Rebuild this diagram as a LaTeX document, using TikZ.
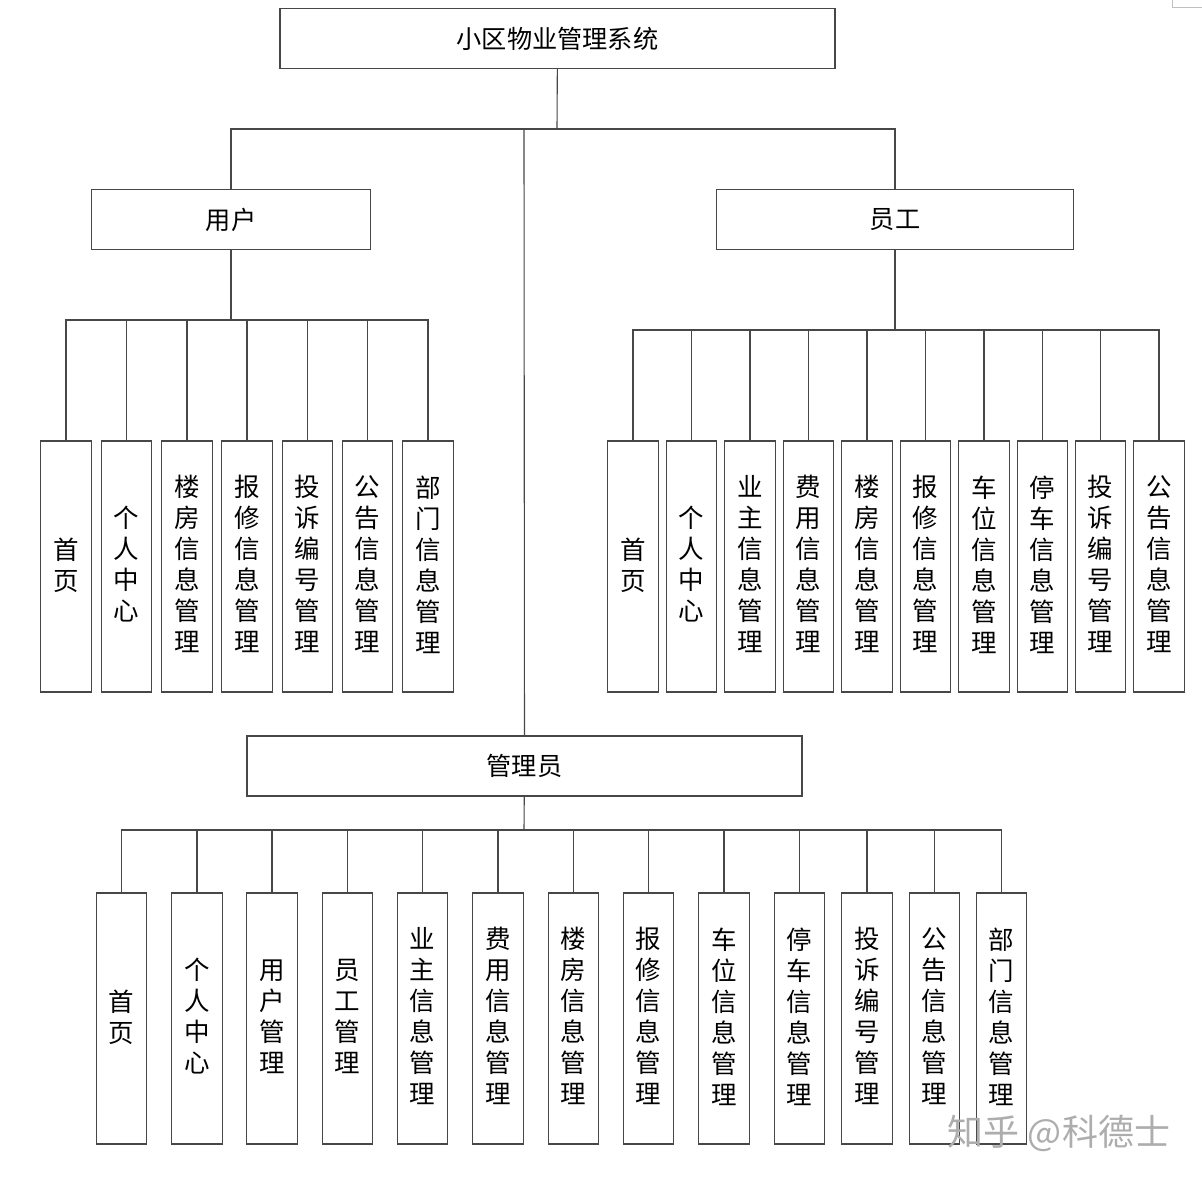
\documentclass[tikz,border=0pt]{standalone}
\usepackage{fontspec}
\setmainfont{Noto Sans CJK SC}
\tikzset{
  wide/.style={draw=black!72,line width=1.1pt,fill=white,inner sep=0pt,minimum height=60pt,font=\fontsize{25.2}{30}\selectfont},
  leaf/.style={draw=black!72,line width=1.1pt,fill=white,inner sep=0pt,text depth=5.5pt,minimum width=50.5pt,minimum height=251pt,align=center,font=\fontsize{25.5}{31}\selectfont},
  mark text/.style={text=black!32,inner sep=0pt,font=\fontsize{36}{36}\selectfont},
}
\begin{document}
\begin{tikzpicture}[x=1pt,y=-1pt]
  \useasboundingbox (0,0) rectangle (1202,1179);
  \coordinate (topbus) at (557,129);
  \coordinate (userbus) at (231,320);
  \coordinate (staffbus) at (895,330);
  \coordinate (adminbus) at (524,830);
  \coordinate (adminjoin) at (524,129);
  \coordinate (cornerA) at (1172,0);
  \coordinate (cornerB) at (1202,7);
  \draw
    (557.5,38.5) node[wide,minimum width=555pt] (root){小区物业管理系统}
    (231,219.5) node[wide,minimum width=279pt] (user){用户}
    (895,219.5) node[wide,minimum width=357pt] (staff){员工}
    (524.5,766) node[wide,minimum width=555pt] (admin){管理员};
  \draw
    (66,566.5) node[leaf] (u0){首\\页}
    (126.5,566.5) node[leaf] (u1){个\\人\\中\\心}
    (187,566.5) node[leaf] (u2){楼\\房\\信\\息\\管\\理}
    (247,566.5) node[leaf] (u3){报\\修\\信\\息\\管\\理}
    (307.5,566.5) node[leaf] (u4){投\\诉\\编\\号\\管\\理}
    (367.5,566.5) node[leaf] (u5){公\\告\\信\\息\\管\\理}
    (428,566.5) node[leaf] (u6){部\\门\\信\\息\\管\\理};
  \draw
    (633,566.5) node[leaf] (s0){首\\页}
    (691.5,566.5) node[leaf] (s1){个\\人\\中\\心}
    (750,566.5) node[leaf] (s2){业\\主\\信\\息\\管\\理}
    (808.5,566.5) node[leaf] (s3){费\\用\\信\\息\\管\\理}
    (867,566.5) node[leaf] (s4){楼\\房\\信\\息\\管\\理}
    (925.5,566.5) node[leaf] (s5){报\\修\\信\\息\\管\\理}
    (984,566.5) node[leaf] (s6){车\\位\\信\\息\\管\\理}
    (1042.5,566.5) node[leaf] (s7){停\\车\\信\\息\\管\\理}
    (1100.5,566.5) node[leaf] (s8){投\\诉\\编\\号\\管\\理}
    (1159,566.5) node[leaf] (s9){公\\告\\信\\息\\管\\理};
  \draw
    (121.5,1018.5) node[leaf] (a0){首\\页}
    (197,1018.5) node[leaf] (a1){个\\人\\中\\心}
    (272,1018.5) node[leaf] (a2){用\\户\\管\\理}
    (347.5,1018.5) node[leaf] (a3){员\\工\\管\\理}
    (422.5,1018.5) node[leaf] (a4){业\\主\\信\\息\\管\\理}
    (498,1018.5) node[leaf] (a5){费\\用\\信\\息\\管\\理}
    (573.5,1018.5) node[leaf] (a6){楼\\房\\信\\息\\管\\理}
    (648.5,1018.5) node[leaf] (a7){报\\修\\信\\息\\管\\理}
    (724,1018.5) node[leaf] (a8){车\\位\\信\\息\\管\\理}
    (799.5,1018.5) node[leaf] (a9){停\\车\\信\\息\\管\\理}
    (867,1018.5) node[leaf] (a10){投\\诉\\编\\号\\管\\理}
    (934.5,1018.5) node[leaf] (a11){公\\告\\信\\息\\管\\理}
    (1001.5,1018.5) node[leaf] (a12){部\\门\\信\\息\\管\\理};
  \begin{scope}[draw=black!72,line width=1.1pt]
    \draw (root) -- (topbus);
    \draw (user) |- (topbus);
    \draw (staff) |- (topbus);
    \draw (admin) -- (adminjoin);
    \draw (user) -- (userbus);
    \draw (u0) |- (userbus);
    \draw (u1) |- (userbus);
    \draw (u2) |- (userbus);
    \draw (u3) |- (userbus);
    \draw (u4) |- (userbus);
    \draw (u5) |- (userbus);
    \draw (u6) |- (userbus);
    \draw (staff) -- (staffbus);
    \draw (s0) |- (staffbus);
    \draw (s1) |- (staffbus);
    \draw (s2) |- (staffbus);
    \draw (s3) |- (staffbus);
    \draw (s4) |- (staffbus);
    \draw (s5) |- (staffbus);
    \draw (s6) |- (staffbus);
    \draw (s7) |- (staffbus);
    \draw (s8) |- (staffbus);
    \draw (s9) |- (staffbus);
    \draw (admin) -- (adminbus);
    \draw (a0) |- (adminbus);
    \draw (a1) |- (adminbus);
    \draw (a2) |- (adminbus);
    \draw (a3) |- (adminbus);
    \draw (a4) |- (adminbus);
    \draw (a5) |- (adminbus);
    \draw (a6) |- (adminbus);
    \draw (a7) |- (adminbus);
    \draw (a8) |- (adminbus);
    \draw (a9) |- (adminbus);
    \draw (a10) |- (adminbus);
    \draw (a11) |- (adminbus);
    \draw (a12) |- (adminbus);
  \end{scope}
  \draw[black!25,line width=0.8pt] (cornerA) |- (cornerB);
  \node[mark text] (mark) at (1059,1133) {知乎 @科德士};
\end{tikzpicture}
\end{document}
